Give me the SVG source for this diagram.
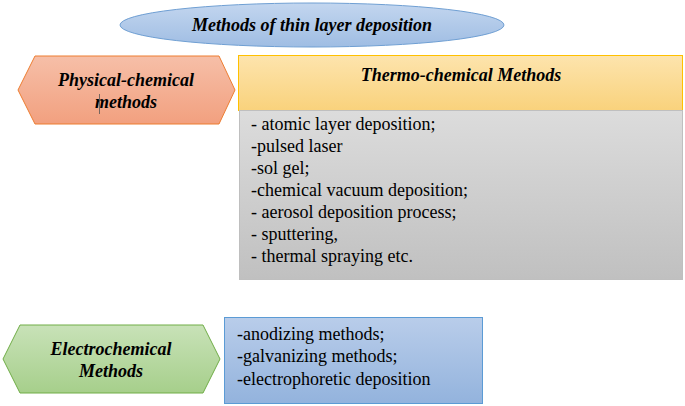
<svg xmlns="http://www.w3.org/2000/svg" width="685" height="406" viewBox="0 0 685 406">
<style>
.t{font-family:"Liberation Serif","Times New Roman",serif;fill:#000}
.h{font-weight:bold;font-style:italic;font-size:18px;text-anchor:middle}
.l{font-size:18px}
</style>
<defs>
<linearGradient id="gBlue" x1="0" y1="0" x2="0" y2="1"><stop offset="0" stop-color="#c3d6ef"/><stop offset="1" stop-color="#9fbde3"/></linearGradient>
<linearGradient id="gSal" x1="0" y1="0" x2="0" y2="1"><stop offset="0" stop-color="#f6bfa8"/><stop offset="1" stop-color="#f2a07f"/></linearGradient>
<linearGradient id="gYel" x1="0" y1="0" x2="0" y2="1"><stop offset="0" stop-color="#fde4ad"/><stop offset="1" stop-color="#f9d27c"/></linearGradient>
<linearGradient id="gGray" x1="0" y1="0" x2="0" y2="1"><stop offset="0" stop-color="#dcdcdc"/><stop offset="1" stop-color="#c0c0c0"/></linearGradient>
<linearGradient id="gGreen" x1="0" y1="0" x2="0" y2="1"><stop offset="0" stop-color="#c8e2b8"/><stop offset="1" stop-color="#a6cf8b"/></linearGradient>
<linearGradient id="gBox" x1="0" y1="0" x2="0" y2="1"><stop offset="0" stop-color="#b9cdea"/><stop offset="1" stop-color="#93b3dd"/></linearGradient>
</defs>
<rect width="685" height="406" fill="#fff"/>
<g id="connectors"></g>
<g id="title">
<ellipse cx="312" cy="25" rx="192" ry="22" fill="url(#gBlue)" stroke="#6f9fd3" stroke-width="1"/>
<text class="t h" x="312" y="31">Methods of thin layer deposition</text>
</g>
<g id="physical">
<polygon points="18,90 35,56 219,56 235,90 219,124 35,124" fill="url(#gSal)" stroke="#ed7d31" stroke-width="1"/>
<text class="t h" x="126" y="86">Physical-chemical</text>
<text class="t h" x="126" y="108">methods</text>
<line x1="99.5" y1="94" x2="99.5" y2="114" stroke="#555" stroke-width="0.8"/>
</g>
<g id="thermo">
<rect x="238.5" y="55.5" width="444" height="55" fill="url(#gYel)" stroke="#ffc000" stroke-width="1"/>
<text class="t h" x="461" y="81">Thermo-chemical Methods</text>
</g>
<g id="thermo-list">
<rect x="239.5" y="110.5" width="443" height="169" fill="url(#gGray)" stroke="#bfbfbf" stroke-width="1"/>
<text class="t l" x="251" y="130">- atomic layer deposition;</text>
<text class="t l" x="251" y="152">-pulsed laser</text>
<text class="t l" x="251" y="174">-sol gel;</text>
<text class="t l" x="251" y="196">-chemical vacuum deposition;</text>
<text class="t l" x="251" y="218">- aerosol deposition process;</text>
<text class="t l" x="251" y="240">- sputtering,</text>
<text class="t l" x="251" y="262">- thermal spraying etc.</text>
</g>
<g id="electro">
<polygon points="3,359 20,325 203,325 220,359 203,393 20,393" fill="url(#gGreen)" stroke="#70ad47" stroke-width="1"/>
<text class="t h" x="111" y="355">Electrochemical</text>
<text class="t h" x="111" y="377">Methods</text>
</g>
<g id="electro-list">
<rect x="224.5" y="317.5" width="258" height="86" fill="url(#gBox)" stroke="#5b9bd5" stroke-width="1"/>
<text class="t l" x="237" y="340">-anodizing methods;</text>
<text class="t l" x="237" y="362">-galvanizing methods;</text>
<text class="t l" x="237" y="385">-electrophoretic deposition</text>
</g>
</svg>
